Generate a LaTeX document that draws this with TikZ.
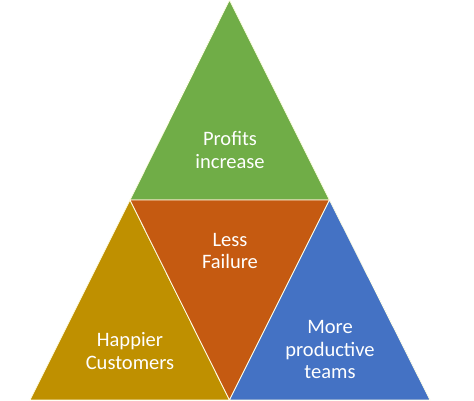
\documentclass[tikz,border=0pt]{standalone}
\usepackage{fontspec}
\setmainfont{Carlito}
\definecolor{cgreen}{HTML}{70AD47}
\definecolor{corange}{HTML}{C55A11}
\definecolor{cgold}{HTML}{BF9000}
\definecolor{cblue}{HTML}{4472C4}
\begin{document}
\begin{tikzpicture}[x=1pt,y=1pt,
  tri/.style={draw=white!90!yellow,line width=0.8pt,line join=miter},
  lbl/.style={text=white,font=\fontsize{20.5}{22.5}\selectfont,align=center}]
\useasboundingbox (0,0) rectangle (474,401);
\coordinate (A) at (229.5,401);
\coordinate (L) at (130,201);
\coordinate (R) at (329.5,201);
\coordinate (BL) at (30,1);
\coordinate (BM) at (229.5,1);
\coordinate (BR) at (430,1);
\fill[cgreen,tri] (A) -- (L) -- (R) -- cycle;
\fill[cgold,tri] (L) -- (BL) -- (BM) -- cycle;
\fill[corange,tri] (L) -- (R) -- (BM) -- cycle;
\fill[cblue,tri] (R) -- (BM) -- (BR) -- cycle;
\node[lbl] (p) at (230,251) {Profits\\increase};
\node[lbl] (l) at (230,150) {Less\\Failure};
\node[lbl] (h) at (130,50) {Happier\\Customers};
\node[lbl] (m) at (330,51) {More\\productive\\teams};
\end{tikzpicture}
\end{document}
